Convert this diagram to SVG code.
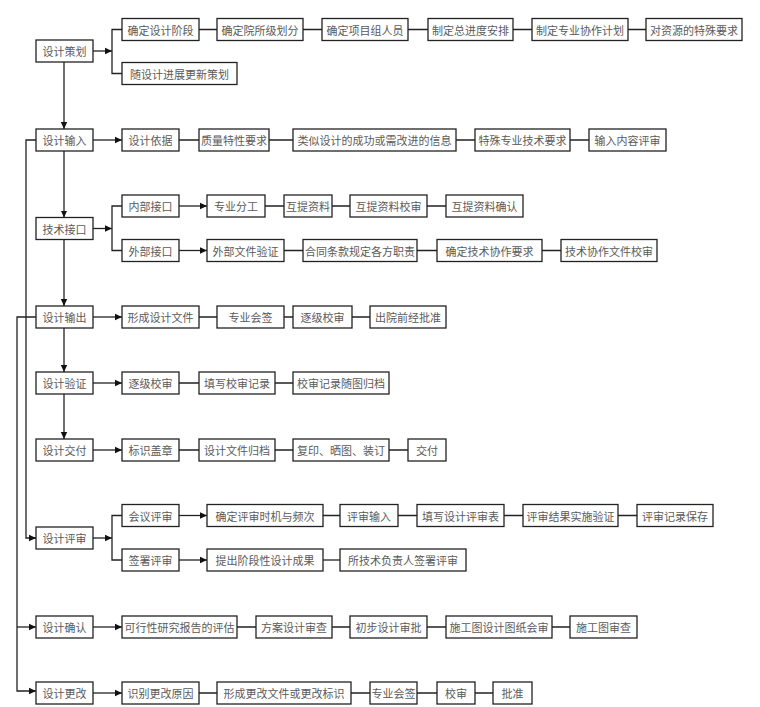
<svg xmlns="http://www.w3.org/2000/svg" width="760" height="707" viewBox="0 0 760 707">
<defs>
<style>
.b{fill:#fff;stroke:#222;stroke-width:1.3}
.t{font-family:"Noto Sans CJK SC","Liberation Serif",serif;font-size:11px;fill:#5a5a5a;text-anchor:middle;dominant-baseline:central}
.c{fill:none;stroke:#222;stroke-width:1.3}
</style>
<marker id="a" markerWidth="8" markerHeight="8" refX="7" refY="4" orient="auto" markerUnits="userSpaceOnUse">
<path d="M0,0.8 L7,4 L0,7.2 Z" fill="#111"/>
</marker>
</defs>
<rect width="760" height="707" fill="#fff"/>
<g id="connectors">
<path class="c" d="M64,62 V129" marker-end="url(#a)"/>
<path class="c" d="M64,151 V217.5" marker-end="url(#a)"/>
<path class="c" d="M64,239.5 V306" marker-end="url(#a)"/>
<path class="c" d="M64,328 V372" marker-end="url(#a)"/>
<path class="c" d="M64,394 V439" marker-end="url(#a)"/>
<path class="c" d="M36,140 H26 V538 H36" marker-end="url(#a)"/>
<path class="c" d="M36,317 H17 V691 H36" marker-end="url(#a)"/>
<path class="c" d="M17,627 H36" marker-end="url(#a)"/>
<path class="c" d="M93,51 H112" marker-end="url(#a)"/>
<path class="c" d="M122,29.5 H112 V73.5 H122"/>
<path class="c" d="M199,29.5 H217 M303,29.5 H322 M408,29.5 H428 M513,29.5 H532 M628,29.5 H646"/>
<path class="c" d="M93,140 H122" marker-end="url(#a)"/>
<path class="c" d="M179,140 H199 M269,140 H293 M456,140 H475 M570,140 H589"/>
<path class="c" d="M93,228.5 H112" marker-end="url(#a)"/>
<path class="c" d="M122,206 H112 V250.5 H122"/>
<path class="c" d="M179,206 H207" marker-end="url(#a)"/>
<path class="c" d="M265,206 H284 M332,206 H350 M427,206 H446"/>
<path class="c" d="M179,250.5 H207" marker-end="url(#a)"/>
<path class="c" d="M284,250.5 H303 M417,250.5 H437 M542,250.5 H561"/>
<path class="c" d="M93,317 H122" marker-end="url(#a)"/>
<path class="c" d="M199,317 H217 M284,317 H293 M352,317 H370"/>
<path class="c" d="M93,383 H122" marker-end="url(#a)"/>
<path class="c" d="M179,383 H199 M275,383 H293"/>
<path class="c" d="M93,450 H122" marker-end="url(#a)"/>
<path class="c" d="M179,450 H199 M275,450 H293 M389,450 H408"/>
<path class="c" d="M93,538 H112" marker-end="url(#a)"/>
<path class="c" d="M122,515.5 H112 V560 H122"/>
<path class="c" d="M179,515.5 H207" marker-end="url(#a)"/>
<path class="c" d="M323,515.5 H340 M398,515.5 H417 M504,515.5 H523 M618,515.5 H637"/>
<path class="c" d="M179,560 H207" marker-end="url(#a)"/>
<path class="c" d="M323,560 H340"/>
<path class="c" d="M93,627 H122" marker-end="url(#a)"/>
<path class="c" d="M237,627 H256 M332,627 H350 M427,627 H446 M552,627 H570"/>
<path class="c" d="M93,693 H122" marker-end="url(#a)"/>
<path class="c" d="M199,693 H217 M351,693 H370 M417,693 H437 M475,693 H493"/>
</g>
<g id="m1"><rect class="b" x="36" y="40" width="57" height="22"/><text class="t" x="64.5" y="51">设计策划</text></g>
<g id="m2"><rect class="b" x="36" y="129" width="57" height="22"/><text class="t" x="64.5" y="140">设计输入</text></g>
<g id="m3"><rect class="b" x="36" y="217.5" width="57" height="22"/><text class="t" x="64.5" y="228.5">技术接口</text></g>
<g id="m4"><rect class="b" x="36" y="306" width="57" height="22"/><text class="t" x="64.5" y="317">设计输出</text></g>
<g id="m5"><rect class="b" x="36" y="372" width="57" height="22"/><text class="t" x="64.5" y="383">设计验证</text></g>
<g id="m6"><rect class="b" x="36" y="439" width="57" height="22"/><text class="t" x="64.5" y="450">设计交付</text></g>
<g id="m7"><rect class="b" x="36" y="527" width="57" height="22"/><text class="t" x="64.5" y="538">设计评审</text></g>
<g id="m8"><rect class="b" x="36" y="616" width="57" height="22"/><text class="t" x="64.5" y="627">设计确认</text></g>
<g id="m9"><rect class="b" x="36" y="682" width="57" height="22"/><text class="t" x="64.5" y="693">设计更改</text></g>
<g id="r1a"><rect class="b" x="122" y="18.5" width="77" height="22"/><text class="t" x="160.5" y="29.5">确定设计阶段</text></g>
<g id="r1b"><rect class="b" x="217" y="18.5" width="86" height="22"/><text class="t" x="260" y="29.5">确定院所级划分</text></g>
<g id="r1c"><rect class="b" x="322" y="18.5" width="86" height="22"/><text class="t" x="365" y="29.5">确定项目组人员</text></g>
<g id="r1d"><rect class="b" x="428" y="18.5" width="85" height="22"/><text class="t" x="470.5" y="29.5">制定总进度安排</text></g>
<g id="r1e"><rect class="b" x="532" y="18.5" width="96" height="22"/><text class="t" x="580" y="29.5">制定专业协作计划</text></g>
<g id="r1f"><rect class="b" x="646" y="18.5" width="96" height="22"/><text class="t" x="694" y="29.5">对资源的特殊要求</text></g>
<g id="r1g"><rect class="b" x="122" y="62.5" width="115" height="22"/><text class="t" x="179.5" y="73.5">随设计进展更新策划</text></g>
<g id="r2a"><rect class="b" x="122" y="129" width="57" height="22"/><text class="t" x="150.5" y="140">设计依据</text></g>
<g id="r2b"><rect class="b" x="199" y="129" width="70" height="22"/><text class="t" x="234" y="140">质量特性要求</text></g>
<g id="r2c"><rect class="b" x="293" y="129" width="163" height="22"/><text class="t" x="374.5" y="140">类似设计的成功或需改进的信息</text></g>
<g id="r2d"><rect class="b" x="475" y="129" width="95" height="22"/><text class="t" x="522.5" y="140">特殊专业技术要求</text></g>
<g id="r2e"><rect class="b" x="589" y="129" width="77" height="22"/><text class="t" x="627.5" y="140">输入内容评审</text></g>
<g id="r3a"><rect class="b" x="122" y="195" width="57" height="22"/><text class="t" x="150.5" y="206">内部接口</text></g>
<g id="r3b"><rect class="b" x="207" y="195" width="58" height="22"/><text class="t" x="236" y="206">专业分工</text></g>
<g id="r3c"><rect class="b" x="284" y="195" width="48" height="22"/><text class="t" x="308" y="206">互提资料</text></g>
<g id="r3d"><rect class="b" x="350" y="195" width="77" height="22"/><text class="t" x="388.5" y="206">互提资料校审</text></g>
<g id="r3e"><rect class="b" x="446" y="195" width="77" height="22"/><text class="t" x="484.5" y="206">互提资料确认</text></g>
<g id="r4a"><rect class="b" x="122" y="239.5" width="57" height="22"/><text class="t" x="150.5" y="250.5">外部接口</text></g>
<g id="r4b"><rect class="b" x="207" y="239.5" width="77" height="22"/><text class="t" x="245.5" y="250.5">外部文件验证</text></g>
<g id="r4c"><rect class="b" x="303" y="239.5" width="114" height="22"/><text class="t" x="360" y="250.5">合同条款规定各方职责</text></g>
<g id="r4d"><rect class="b" x="437" y="239.5" width="105" height="22"/><text class="t" x="489.5" y="250.5">确定技术协作要求</text></g>
<g id="r4e"><rect class="b" x="561" y="239.5" width="96" height="22"/><text class="t" x="609" y="250.5">技术协作文件校审</text></g>
<g id="r5a"><rect class="b" x="122" y="306" width="77" height="22"/><text class="t" x="160.5" y="317">形成设计文件</text></g>
<g id="r5b"><rect class="b" x="217" y="306" width="67" height="22"/><text class="t" x="250.5" y="317">专业会签</text></g>
<g id="r5c"><rect class="b" x="293" y="306" width="59" height="22"/><text class="t" x="322.5" y="317">逐级校审</text></g>
<g id="r5d"><rect class="b" x="370" y="306" width="76" height="22"/><text class="t" x="408" y="317">出院前经批准</text></g>
<g id="r6a"><rect class="b" x="122" y="372" width="57" height="22"/><text class="t" x="150.5" y="383">逐级校审</text></g>
<g id="r6b"><rect class="b" x="199" y="372" width="76" height="22"/><text class="t" x="237" y="383">填写校审记录</text></g>
<g id="r6c"><rect class="b" x="293" y="372" width="96" height="22"/><text class="t" x="341" y="383">校审记录随图归档</text></g>
<g id="r7a"><rect class="b" x="122" y="439" width="57" height="22"/><text class="t" x="150.5" y="450">标识盖章</text></g>
<g id="r7b"><rect class="b" x="199" y="439" width="76" height="22"/><text class="t" x="237" y="450">设计文件归档</text></g>
<g id="r7c"><rect class="b" x="293" y="439" width="96" height="22"/><text class="t" x="341" y="450">复印、晒图、装订</text></g>
<g id="r7d"><rect class="b" x="408" y="439" width="38" height="22"/><text class="t" x="427" y="450">交付</text></g>
<g id="r8a"><rect class="b" x="122" y="504.5" width="57" height="22"/><text class="t" x="150.5" y="515.5">会议评审</text></g>
<g id="r8b"><rect class="b" x="207" y="504.5" width="116" height="22"/><text class="t" x="265" y="515.5">确定评审时机与频次</text></g>
<g id="r8c"><rect class="b" x="340" y="504.5" width="58" height="22"/><text class="t" x="369" y="515.5">评审输入</text></g>
<g id="r8d"><rect class="b" x="417" y="504.5" width="87" height="22"/><text class="t" x="460.5" y="515.5">填写设计评审表</text></g>
<g id="r8e"><rect class="b" x="523" y="504.5" width="95" height="22"/><text class="t" x="570.5" y="515.5">评审结果实施验证</text></g>
<g id="r8f"><rect class="b" x="637" y="504.5" width="76" height="22"/><text class="t" x="675" y="515.5">评审记录保存</text></g>
<g id="r9a"><rect class="b" x="122" y="549" width="57" height="22"/><text class="t" x="150.5" y="560">签署评审</text></g>
<g id="r9b"><rect class="b" x="207" y="549" width="116" height="22"/><text class="t" x="265" y="560">提出阶段性设计成果</text></g>
<g id="r9c"><rect class="b" x="340" y="549" width="126" height="22"/><text class="t" x="403" y="560">所技术负责人签署评审</text></g>
<g id="r10a"><rect class="b" x="122" y="616" width="115" height="22"/><text class="t" x="179.5" y="627">可行性研究报告的评估</text></g>
<g id="r10b"><rect class="b" x="256" y="616" width="76" height="22"/><text class="t" x="294" y="627">方案设计审查</text></g>
<g id="r10c"><rect class="b" x="350" y="616" width="77" height="22"/><text class="t" x="388.5" y="627">初步设计审批</text></g>
<g id="r10d"><rect class="b" x="446" y="616" width="106" height="22"/><text class="t" x="499" y="627">施工图设计图纸会审</text></g>
<g id="r10e"><rect class="b" x="570" y="616" width="67" height="22"/><text class="t" x="603.5" y="627">施工图审查</text></g>
<g id="r11a"><rect class="b" x="122" y="682" width="77" height="22"/><text class="t" x="160.5" y="693">识别更改原因</text></g>
<g id="r11b"><rect class="b" x="217" y="682" width="134" height="22"/><text class="t" x="284" y="693">形成更改文件或更改标识</text></g>
<g id="r11c"><rect class="b" x="370" y="682" width="47" height="22"/><text class="t" x="393.5" y="693">专业会签</text></g>
<g id="r11d"><rect class="b" x="437" y="682" width="38" height="22"/><text class="t" x="456" y="693">校审</text></g>
<g id="r11e"><rect class="b" x="493" y="682" width="39" height="22"/><text class="t" x="512.5" y="693">批准</text></g>
</svg>
